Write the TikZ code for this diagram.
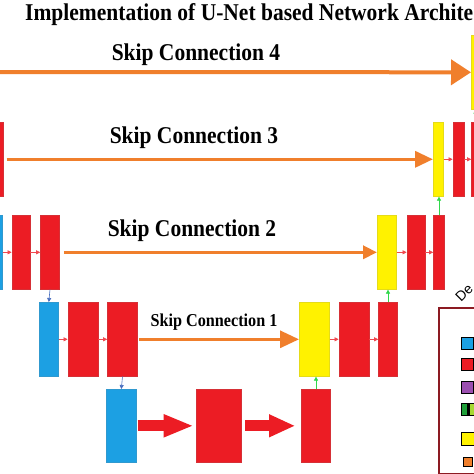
\documentclass[tikz,border=0pt]{standalone}
\usepackage{fontspec}
\setmainfont{Liberation Serif}
\newfontfamily\legfont{Liberation Sans}
\usepackage{graphicx}
\usepackage{tikz}
\usetikzlibrary{arrows.meta,positioning}
\definecolor{unetblue}{HTML}{1CA0E3}
\definecolor{unetred}{HTML}{EC1C24}
\definecolor{unetyel}{HTML}{FFF200}
\definecolor{skiporg}{HTML}{F07F2C}
\definecolor{upgreen}{HTML}{2FD84A}
\definecolor{downblue}{HTML}{4A6FC0}
\definecolor{legred}{HTML}{8C1A22}
\definecolor{keygreen}{HTML}{1FA03A}
\definecolor{keylime}{HTML}{A8D832}
\definecolor{keypurple}{HTML}{9B4FB0}
\newcommand{\tallt}[1]{\scalebox{1}[1.12]{#1}}
\tikzset{
  fmap/.style={rectangle, draw=#1!80!gray, line width=0.6pt, fill=#1, inner sep=0pt,
               minimum height=74pt},
  keysq/.style={rectangle, draw=black, line width=1.4pt, fill=#1, inner sep=0pt,
                anchor=north west, minimum size=12pt},
  lab/.style={font=\fontsize{#1}{#1}\selectfont\bfseries, anchor=base, inner sep=0pt},
  inner/.style={-{Triangle[length=4pt,width=4pt]}, line width=0.6pt, draw=unetred!80},
  down/.style={-{Triangle[length=4pt,width=4pt]}, line width=0.6pt, draw=downblue},
  up/.style={-{Triangle[length=4pt,width=4pt]}, line width=0.7pt, draw=upgreen},
  skip/.style={line width=#1, draw=skiporg},
  pool/.style={line width=11pt, draw=unetred},
}

\begin{document}
\begin{tikzpicture}[x=1pt, y=-1pt, node distance=9pt]
  \useasboundingbox[fill=white] (0,0) rectangle (474,474);

  \node[lab=21.5, anchor=base west] (title) at (25,20) {\tallt{Implementation of U-Net based Network Archite}};

  \node[fmap=unetyel, minimum width=10pt, anchor=north west] (d4) at (471,35) {};

  \node[fmap=unetred, minimum width=11pt, anchor=north west] (l3) at (-8,122) {};
  \node[fmap=unetyel, minimum width=10pt, anchor=north west] (d3) at (433,122) {};
  \node[fmap=unetred, minimum width=11pt, right=of d3] (r3a) {};
  \node[fmap=unetred, minimum width=8pt, right=7pt of r3a] (r3b) {};

  \node[fmap=unetblue, minimum width=18pt, anchor=north west] (l2a) at (-16,215) {};
  \node[fmap=unetred, minimum width=18pt, right=of l2a] (l2b) {};
  \node[fmap=unetred, minimum width=19pt, right=10pt of l2b] (l2c) {};
  \node[fmap=unetyel, minimum width=19pt, anchor=north west] (d2) at (377,215) {};
  \node[fmap=unetred, minimum width=18pt, right=10pt of d2] (r2a) {};
  \node[fmap=unetred, minimum width=11pt, right=8pt of r2a] (r2b) {};

  \node[fmap=unetblue, minimum width=19pt, anchor=north west] (l1a) at (39,302) {};
  \node[fmap=unetred, minimum width=30pt, right=of l1a] (l1b) {};
  \node[fmap=unetred, minimum width=30pt, right=of l1b] (l1c) {};
  \node[fmap=unetyel, minimum width=30pt, anchor=north west] (d1) at (299,302) {};
  \node[fmap=unetred, minimum width=30pt, right=of d1] (r1a) {};
  \node[fmap=unetred, minimum width=19pt, right=of r1a] (r1b) {};

  \node[fmap=unetblue, minimum width=30pt, minimum height=73pt, anchor=north west] (b0) at (106,389) {};
  \node[fmap=unetred, minimum width=45pt, minimum height=73pt, right=59pt of b0] (b1) {};
  \node[fmap=unetred, minimum width=29pt, minimum height=73pt, right=60pt of b1] (b2) {};

  \node[lab=21.5] (sc4) at (196,60) {\tallt{Skip Connection 4}};
  \node[lab=21.5] (sc3) at (194,143) {\tallt{Skip Connection 3}};
  \node[lab=21.5] (sc2) at (192,236) {\tallt{Skip Connection 2}};
  \node[lab=16.2] (sc1) at (214,326) {\tallt{Skip Connection 1}};

  \coordinate (s4) at (-2,72);
  \draw[skip=4pt, -{Triangle[length=20pt,width=25pt]}] (s4) -- (d4.west);
  \draw[skip=3.5pt, -{Triangle[length=18pt,width=16pt]}, shorten <=3pt] (l3.east) -- (d3.west);
  \draw[skip=3.5pt, -{Triangle[length=14pt,width=13pt]}, shorten <=4pt] (l2c.east) -- (d2.west);
  \draw[skip=3pt, -{Triangle[length=19pt,width=17pt]}, shorten <=1pt] (l1c.east) -- (d1.west);

  \draw[inner] (d3) -- (r3a); \draw[inner] (r3a) -- (r3b);
  \draw[inner] (l2a) -- (l2b); \draw[inner] (l2b) -- (l2c);
  \draw[inner] (d2) -- (r2a); \draw[inner] (r2a) -- (r2b);
  \draw[inner] (l1a) -- (l1b); \draw[inner] (l1b) -- (l1c);
  \draw[inner] (d1) -- (r1a); \draw[inner] (r1a) -- (r1b);

  \draw[down] (l2c.south) -- (l1a.north);
  \draw[down] (l1c.south) -- (b0.north);

  \draw[up] (b2.north) -- (b2.north |- d1.south);
  \draw[up] (r1b.north) -- (r1b.north |- d2.south);
  \draw[up] (r2b.north) -- (r2b.north |- d3.south);
  \draw[up] (r3b.north) -- (r3b.north |- d4.south);

  \draw[pool, -{Triangle[length=30pt,width=21pt]}, shorten <=1pt, shorten >=2pt] (b0.east) -- (b1.west);
  \draw[pool, -{Triangle[length=26pt,width=21pt]}, shorten <=4pt, shorten >=6pt] (b1.east) -- (b2.west);

  \node[rectangle, draw=legred, line width=1.6pt, minimum width=70pt, minimum height=166pt,
        anchor=north west, inner sep=0pt] (leg) at (438,307) {};
  \node[font=\legfont\fontsize{14}{14}\selectfont, rotate=45, anchor=base west, inner sep=0pt] (legt) at (461,303) {De};
  \node[keysq=unetblue] (k1) at (461,337) {};
  \node[keysq=unetred] (k2) at (461,358) {};
  \node[keysq=keypurple] (k3) at (461,381) {};
  \node[keysq=keygreen, minimum width=6pt] (k4a) at (461,403) {};
  \node[keysq=keylime, minimum width=6pt, right=0pt of k4a] (k4b) {};
  \node[keysq=unetyel, minimum width=30pt, minimum height=13pt] (k5) at (461,432) {};
  \node[keysq=skiporg, minimum size=9pt] (k6) at (463,457) {};
\end{tikzpicture}
\end{document}
